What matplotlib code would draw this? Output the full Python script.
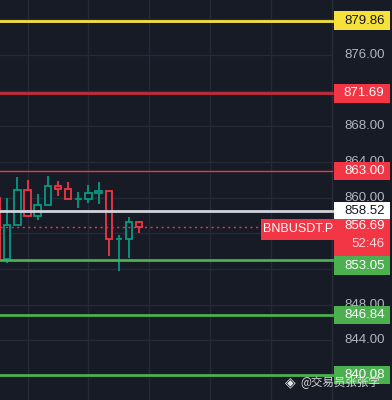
import matplotlib.pyplot as plt
import matplotlib.transforms as mtransforms
from matplotlib.patches import Rectangle

# candle data (15 bars, first one cut at the left edge)
opens  = [859.93, 853.10, 856.93, 860.86, 857.97, 859.14, 861.31, 860.94, 859.81, 859.81, 860.49, 860.71, 855.33, 855.33, 857.23]
highs  = [860.10, 859.93, 862.35, 861.98, 860.41, 862.43, 861.87, 861.76, 860.60, 861.42, 861.72, 860.71, 855.81, 857.80, 857.38]
lows   = [852.80, 852.67, 856.93, 857.97, 857.49, 859.14, 860.22, 859.81, 858.87, 859.43, 859.32, 853.48, 851.80, 853.26, 856.00]
closes = [853.05, 856.93, 860.86, 857.97, 859.14, 861.27, 860.94, 859.81, 859.85, 860.49, 860.71, 855.33, 855.36, 857.23, 856.69]

# horizontal levels
level_prices = [879.86, 871.69, 863.00, 858.52, 853.05, 846.84, 840.08]
level_colors = ['#f7e23b', '#c92a3a', '#f23645', '#d1d4dc', '#4caf50', '#4caf50', '#4caf50']
level_box    = ['#f7e23b', '#f23645', '#f23645', '#ffffff', '#4caf50', '#4caf50', '#4caf50']
level_text   = ['#131722', '#ffffff', '#ffffff', '#131722', '#ffffff', '#ffffff', '#ffffff']
level_width  = [2, 2, 1, 2, 2, 2, 2]

last_price = 856.69
countdown = '52:46'
symbol = 'BNBUSDT.P'
grid_ticks = [840, 844, 848, 852, 856, 860, 864, 868, 872, 876, 880]
# axis labels still (partly) visible behind the price boxes
axis_labels = [844, 848, 852, 860, 864, 868, 876]

bg = '#171b26'
grid_c = '#262a36'
up_c = '#089981'
down_c = '#f23645'

W, H = 392, 400
fig = plt.figure(figsize=(W / 100, H / 100), dpi=100, facecolor=bg)
ax = fig.add_axes([0, 0, 1, 1])
ax.set_facecolor(bg)
for s in ax.spines.values():
    s.set_visible(False)
ax.set_xticks([])
ax.set_yticks([])

# pixel mapping: candle i centered at -2.9 + 10.15*i px
step = 10.15
ax.set_xlim((0 + 2.9) / step, (W + 2.9) / step)
ymin, ymax = 837.29, 882.18
ax.set_ylim(ymin, ymax)
ppu = H / (ymax - ymin)  # pixels per price unit

def fx(px):
    return px / W

trans = mtransforms.blended_transform_factory(ax.transAxes, ax.transData)
plot_right = fx(332)

# grid
for p in grid_ticks:
    ax.plot([0, plot_right], [p, p], transform=trans, color=grid_c, lw=1, zorder=1)
for i in [3, 9, 15, 21, 27]:
    ax.axvline(i, color=grid_c, lw=1, zorder=1)
ax.plot([plot_right, plot_right], [0, 1], transform=ax.transAxes, color='#2a2e39', lw=1, zorder=1)

# candles (hollow)
for i in range(len(opens)):
    c = up_c if closes[i] >= opens[i] else down_c
    ax.vlines(i, lows[i], highs[i], color=c, lw=1.3, zorder=3)
    lo = min(opens[i], closes[i])
    hi = max(opens[i], closes[i])
    ax.bar(i, max(hi - lo, 0.02), bottom=lo, width=0.64, facecolor=bg,
           edgecolor=c, linewidth=1.3, zorder=4)

# level lines
for p, c, w in zip(level_prices, level_colors, level_width):
    ax.plot([0, plot_right], [p, p], transform=trans, color=c, lw=w, zorder=5)
ax.plot([0, fx(261)], [last_price, last_price], transform=trans, color=down_c,
        lw=1, ls=(0, (1.5, 2.5)), zorder=5)

font = 'Liberation Sans'

# price axis labels
for p in axis_labels:
    ax.text(fx(384.5), p, f'{p:.2f}', transform=trans, ha='right', va='center',
            color='#b2b5be', fontsize=9.5, family=font, zorder=6)

# price boxes
box_h = 18.5 / ppu
cur_top = last_price + 8.2 / ppu
cur_bot = cur_top - 37.5 / ppu
for p, bc, tc in zip(level_prices, level_box, level_text):
    yc = p
    if p < last_price and p + box_h / 2 > cur_bot:
        yc = cur_bot - box_h / 2
    ax.add_patch(Rectangle((fx(334), yc - box_h / 2), fx(56), box_h, transform=trans,
                           facecolor=bc, edgecolor='none', zorder=7))
    ax.text(fx(384.5), yc, f'{p:.2f}', transform=trans, ha='right', va='center',
            color=tc, fontsize=9.5, family=font, zorder=8)

ax.add_patch(Rectangle((fx(334), cur_bot), fx(56), cur_top - cur_bot, transform=trans,
                       facecolor=down_c, edgecolor='none', zorder=7))
ax.text(fx(384.5), last_price + 0.1, f'{last_price:.2f}', transform=trans, ha='right',
        va='center', color='white', fontsize=9.5, family=font, zorder=8)
ax.text(fx(384.5), last_price - 16.5 / ppu, countdown, transform=trans, ha='right',
        va='center', color='#ffd9dc', fontsize=9.5, family=font, zorder=8)

sym_h = 21 / ppu
ax.add_patch(Rectangle((fx(261), cur_top - sym_h), fx(75), sym_h, transform=trans,
                       facecolor=down_c, edgecolor='none', zorder=7))
ax.text(fx(298.5), cur_top - sym_h / 2, symbol, transform=trans, ha='center', va='center',
        color='white', fontsize=9, family=font, zorder=8)

# watermark
fig.text(fx(290), 1 - 382 / H, '◈', ha='center', va='center', color='#e6e6e6',
         fontsize=10, family=['DejaVu Sans'], zorder=9)
fig.text(fx(300), 1 - 382 / H, '@交易员张张学', ha='left', va='center', color='#e6e6e6',
         fontsize=8.3, family=['Noto Sans CJK SC', 'DejaVu Sans'], zorder=9, alpha=0.92)

fig.savefig('out.png', dpi=100, facecolor=bg)
